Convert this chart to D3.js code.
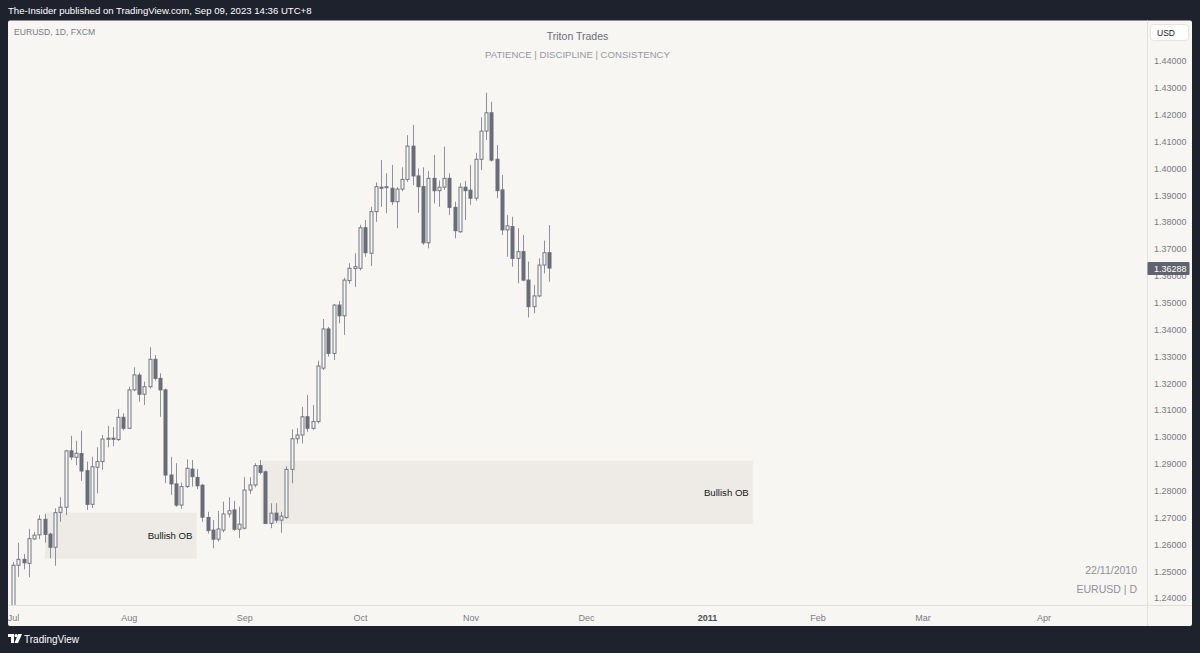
<!DOCTYPE html>
<html><head><meta charset="utf-8">
<script src="https://cdn.jsdelivr.net/npm/d3@7"></script>
<style>
html,body{margin:0;padding:0;background:#1e222d;overflow:hidden;}
svg{display:block;font-family:"Liberation Sans",Arial,sans-serif;}
</style>
</head><body>
<svg id="chart" width="1200" height="653"></svg>
<script>
// ---------- DATA ----------
const symbolTitle = "EURUSD, 1D, FXCM";
const headerText = "The-Insider published on TradingView.com, Sep 09, 2023 14:36 UTC+8";
const titleMain = "Triton Trades";
const titleSub = "PATIENCE | DISCIPLINE | CONSISTENCY";
const firstBarDate = "2010-07-01";
const lastBarDate = "2010-11-22";
const opens = [1.2230,1.2522,1.2544,1.2529,1.2620,1.2635,1.2693,1.2638,1.2589,1.2719,
1.2738,1.2948,1.2924,1.2938,1.2874,1.2749,1.2887,1.2908,1.2991,1.2995,
1.2990,1.3073,1.3032,1.3175,1.3230,1.3159,1.3187,1.3289,1.3218,1.3175,
1.2858,1.2825,1.2746,1.2815,1.2880,1.2849,1.2820,1.2700,1.2653,1.2619,
1.2653,1.2713,1.2728,1.2656,1.2660,1.2802,1.2821,1.2893,1.2870,1.2678,
1.2716,1.2690,1.2700,1.2879,1.2993,1.3007,1.3075,1.3032,1.3057,1.3256,
1.3402,1.3311,1.3491,1.3451,1.3582,1.3627,1.3628,1.3779,1.3684,1.3839,
1.3930,1.3930,1.3926,1.3876,1.3923,1.3959,1.4083,1.3972,1.3932,1.3723,
1.3963,1.3917,1.3930,1.3963,1.3855,1.3764,1.3930,1.3919,1.3889,1.4034,
1.4139,1.4207,1.4034,1.3920,1.3771,1.3783,1.3665,1.3690,1.3584,1.3485,
1.3525,1.3640,1.3686];
const highs = [1.2534,1.2606,1.2564,1.2658,1.2646,1.2709,1.2713,1.2643,1.2734,1.2775,
1.2952,1.3004,1.2986,1.3023,1.2908,1.2926,1.2961,1.3007,1.3041,1.3037,
1.3104,1.3088,1.3187,1.3259,1.3239,1.3206,1.3334,1.3305,1.3237,1.3180,
1.2926,1.2902,1.2830,1.2916,1.2914,1.2880,1.2825,1.2721,1.2690,1.2724,
1.2759,1.2775,1.2762,1.2740,1.2850,1.2850,1.2902,1.2914,1.2875,1.2753,
1.2753,1.2721,1.2890,1.3028,1.3032,1.3112,1.3156,1.3119,1.3284,1.3439,
1.3410,1.3495,1.3506,1.3593,1.3647,1.3684,1.3790,1.3808,1.3857,1.3948,
1.4031,1.3982,1.4013,1.3930,1.4004,1.4124,1.4162,1.4000,1.4004,1.3990,
1.4050,1.3955,1.4081,1.3982,1.3876,1.3945,1.3953,1.4013,1.4058,1.4190,
1.4282,1.4248,1.4087,1.3976,1.3826,1.3820,1.3777,1.3752,1.3653,1.3566,
1.3665,1.3731,1.3789];
const lows = [1.2225,1.2479,1.2507,1.2477,1.2617,1.2619,1.2606,1.2548,1.2520,1.2684,
1.2709,1.2914,1.2895,1.2836,1.2728,1.2735,1.2790,1.2877,1.2961,1.2965,
1.2985,1.3025,1.3030,1.3170,1.3131,1.3119,1.3180,1.3210,1.3075,1.2828,
1.2784,1.2740,1.2732,1.2810,1.2815,1.2805,1.2684,1.2640,1.2585,1.2610,
1.2645,1.2700,1.2650,1.2623,1.2655,1.2788,1.2812,1.2860,1.2675,1.2660,
1.2680,1.2643,1.2695,1.2827,1.2975,1.2976,1.3019,1.3025,1.3050,1.3249,
1.3299,1.3286,1.3423,1.3380,1.3570,1.3559,1.3620,1.3671,1.3637,1.3801,
1.3857,1.3833,1.3864,1.3777,1.3915,1.3950,1.3938,1.3835,1.3715,1.3702,
1.3870,1.3857,1.3920,1.3826,1.3740,1.3760,1.3808,1.3864,1.3880,1.3994,
1.4106,1.4025,1.3889,1.3752,1.3671,1.3634,1.3572,1.3580,1.3445,1.3460,
1.3520,1.3609,1.3578];
const closes = [1.2522,1.2544,1.2531,1.2621,1.2634,1.2693,1.2637,1.2589,1.2718,1.2738,
1.2948,1.2925,1.2939,1.2873,1.2749,1.2889,1.2908,1.2992,1.2995,1.2993,
1.3073,1.3032,1.3175,1.3231,1.3159,1.3187,1.3289,1.3218,1.3175,1.2858,
1.2825,1.2746,1.2815,1.2883,1.2852,1.2818,1.2701,1.2651,1.2619,1.2657,
1.2713,1.2725,1.2656,1.2675,1.2802,1.2821,1.2893,1.2868,1.2678,1.2716,
1.2690,1.2705,1.2879,1.2993,1.3007,1.3075,1.3032,1.3057,1.3264,1.3402,
1.3311,1.3491,1.3451,1.3584,1.3628,1.3634,1.3779,1.3686,1.3839,1.3932,
1.3927,1.3932,1.3876,1.3923,1.3959,1.4083,1.3972,1.3932,1.3723,1.3963,
1.3917,1.3930,1.3963,1.3855,1.3768,1.3930,1.3917,1.3889,1.4034,1.4139,
1.4207,1.4031,1.3917,1.3771,1.3786,1.3665,1.3690,1.3584,1.3485,1.3525,
1.3640,1.3686,1.36288];
const priceTicks = [1.24,1.25,1.26,1.27,1.28,1.29,1.30,1.31,1.32,1.33,1.34,1.35,1.36,1.37,1.38,1.39,1.40,1.41,1.42,1.43,1.44];
const monthLabels = ["Jul","Aug","Sep","Oct","Nov","Dec","2011","Feb","Mar","Apr"];
const monthDates = ["2010-07-01","2010-08-01","2010-09-01","2010-10-01","2010-11-01","2010-12-01","2011-01-01","2011-02-01","2011-03-01","2011-04-01"];
const obLabels = ["Bullish OB","Bullish OB"];
const obStart = [6.1, 47.3];   // bar index
const obEnd = [34.9, 140.7];   // bar index
const obTop = [1.2718, 1.2911];
const obBottom = [1.2546, 1.2675];
const watermarkDate = "22/11/2010";
const watermarkSym = "EURUSD | D";

// ---------- CALENDAR (weekday bars) ----------
function weekdays(from, to){
  const out=[]; const d=new Date(from+"T00:00:00Z"); const end=new Date(to+"T00:00:00Z");
  while(d<=end){ const w=d.getUTCDay(); if(w!==0&&w!==6) out.push(d.toISOString().slice(0,10)); d.setUTCDate(d.getUTCDate()+1);}
  return out;
}
const calendar = weekdays(firstBarDate, "2011-04-30");
const idxOf = ds => calendar.findIndex(c => c >= ds);
const bars = opens.map((o,i)=>({i, date:calendar[i], o, h:highs[i], l:lows[i], c:closes[i]}));

// ---------- LAYOUT ----------
const svg = d3.select("#chart");
const W=1200,H=653;
const panel = {x:8, y:20.5, r:1192, b:626};
const plot = {l:8, r:1147, t:20.5, b:605};
const x = d3.scaleLinear().domain([0, idxOf("2011-04-01")]).range([13, 1043.5]);
const y = d3.scaleLinear().domain([1.24, 1.44]).range([598, 61]);

const BG="#f8f6f2", FRAME="#1e222d", TXT="#787b86", LINE="#e3e0db";
svg.append("rect").attr("width",W).attr("height",H).attr("fill",FRAME);
svg.append("rect").attr("x",panel.x).attr("y",panel.y).attr("width",panel.r-panel.x).attr("height",panel.b-panel.y).attr("fill",BG).attr("rx",2);

svg.append("text").attr("x",8).attr("y",14).attr("fill","#ffffff").attr("font-size",9.6).text(headerText);

// clip
svg.append("clipPath").attr("id","plotclip").append("rect")
  .attr("x",plot.l).attr("y",plot.t).attr("width",plot.r-plot.l).attr("height",plot.b-plot.t);
const g = svg.append("g").attr("clip-path","url(#plotclip)");

// order blocks
const obs = obLabels.map((t,k)=>({t, s:obStart[k], e:obEnd[k], top:obTop[k], bot:obBottom[k]}));
g.selectAll("rect.ob").data(obs).join("rect").attr("class","ob")
  .attr("x",d=>x(d.s)).attr("width",d=>x(d.e)-x(d.s))
  .attr("y",d=>y(d.top)).attr("height",d=>y(d.bot)-y(d.top))
  .attr("fill","#eeebe7");
g.selectAll("text.ob").data(obs).join("text").attr("class","ob")
  .attr("x",d=>x(d.e)-4).attr("y",d=>(y(d.top)+y(d.bot))/2+3.5)
  .attr("text-anchor","end").attr("font-size",9.6).attr("fill","#131722").text(d=>d.t);

// candles
const WICK="#8e919b", BORDER="#737681", DARK="#6a6d78";
const cg = g.selectAll("g.bar").data(bars).join("g").attr("class","bar");
cg.append("line")
  .attr("x1",d=>Math.round(x(d.i))+0.5).attr("x2",d=>Math.round(x(d.i))+0.5)
  .attr("y1",d=>y(d.h)).attr("y2",d=>y(d.l))
  .attr("stroke",WICK).attr("stroke-width",1);
cg.append("rect")
  .attr("x",d=>Math.round(x(d.i))-1).attr("width",3)
  .attr("y",d=>y(Math.max(d.o,d.c))).attr("height",d=>Math.max(1,Math.abs(y(d.o)-y(d.c))))
  .attr("fill",d=>d.c<d.o?DARK:BG)
  .attr("stroke",d=>d.c<d.o?DARK:BORDER).attr("stroke-width",1);

// axes lines
svg.append("line").attr("x1",plot.r+0.5).attr("x2",plot.r+0.5).attr("y1",panel.y).attr("y2",panel.b).attr("stroke",LINE);
svg.append("line").attr("x1",panel.x).attr("x2",panel.r).attr("y1",plot.b+0.5).attr("y2",plot.b+0.5).attr("stroke",LINE);

// price axis
const lastClose = closes[closes.length-1];
const yAxis = svg.append("g").attr("transform",`translate(${plot.r},0)`)
  .call(d3.axisRight(y).tickValues(priceTicks).tickFormat(d3.format(".5f")).tickSize(0).tickPadding(7));
yAxis.select(".domain").remove();
yAxis.selectAll("text").attr("fill",TXT).attr("font-size",9).attr("font-family","Liberation Sans, Arial, sans-serif");

// current price label
svg.append("rect").attr("x",plot.r+0.5).attr("y",Math.round(y(lastClose))-6).attr("width",42).attr("height",13).attr("fill","#60636e").attr("rx",1);
svg.append("text").attr("x",plot.r+7).attr("y",Math.round(y(lastClose))+4).attr("fill","#fff").attr("font-size",9).text(d3.format(".5f")(lastClose));

// USD box
svg.append("rect").attr("x",1150.5).attr("y",24.5).attr("width",38).attr("height",16).attr("rx",3).attr("fill","#ffffff").attr("stroke","#e6e3de");
svg.append("text").attr("x",1157).attr("y",36).attr("fill","#131722").attr("font-size",8.5).text("USD");

// time axis
const months = monthLabels.map((m,k)=>({m, i:idxOf(monthDates[k])}));
const xAxis = svg.append("g").attr("transform",`translate(0,${plot.b})`)
  .call(d3.axisBottom(x).tickValues(months.map(d=>d.i)).tickFormat((d,k)=>months[k].m).tickSize(0).tickPadding(10));
xAxis.select(".domain").remove();
xAxis.selectAll("text").attr("fill",(d,k)=>months[k].m==="2011"?"#4a4d57":TXT)
  .attr("font-weight",(d,k)=>months[k].m==="2011"?"bold":"normal")
  .attr("font-size",9).attr("font-family","Liberation Sans, Arial, sans-serif");

// titles
svg.append("text").attr("x",14).attr("y",35).attr("fill",TXT).attr("font-size",8.6).text(symbolTitle);
svg.append("text").attr("x",577.5).attr("y",40).attr("text-anchor","middle").attr("fill","#6a6d78").attr("font-size",10.5).text(titleMain);
svg.append("text").attr("x",577.5).attr("y",58).attr("text-anchor","middle").attr("fill","#9598a1").attr("font-size",9.6).text(titleSub);

// watermark
svg.append("text").attr("x",1137).attr("y",574).attr("text-anchor","end").attr("fill","#8e919b").attr("font-size",10.5).text(watermarkDate);
svg.append("text").attr("x",1137).attr("y",593).attr("text-anchor","end").attr("fill","#8e919b").attr("font-size",10.5).text(watermarkSym);

// TradingView footer
const logo = svg.append("g").attr("transform","translate(8,634)").attr("fill","#ffffff");
logo.append("path").attr("d","M0 0 H6 V9 H3 V3 H0 Z");
logo.append("circle").attr("cx",8).attr("cy",1.6).attr("r",1.6);
logo.append("path").attr("d","M10 0 H14 L10 9 H6.5 Z");
svg.append("text").attr("x",24).attr("y",643).attr("fill","#ffffff").attr("font-size",10).text("TradingView");
</script>
</body></html>
